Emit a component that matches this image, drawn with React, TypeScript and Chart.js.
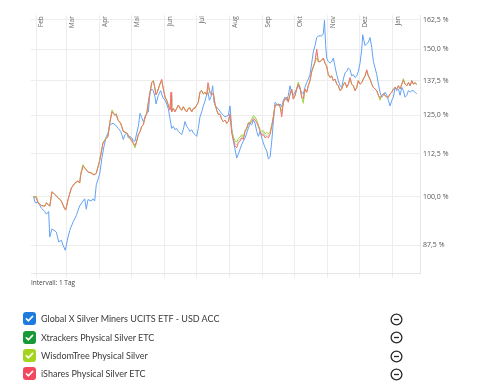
import React, { useEffect, useRef } from 'react';
import { Chart, registerables } from 'chart.js';

Chart.register(...registerables);

// Month gridlines: days since 1 Feb (2024, leap year)
const monthTicks = [0, 29, 60, 90, 121, 151, 182, 213, 243, 274, 304, 335];
const monthLabels = ['Feb', 'Mar', 'Apr', 'Mai', 'Jun', 'Jul', 'Aug', 'Sep', 'Okt', 'Nov', 'Dez', 'Jan'];
const yTicks = [87.5, 100, 112.5, 125, 137.5, 150, 162.5];

const seriesNames = [
  'Global X Silver Miners UCITS ETF - USD ACC',
  'Xtrackers Physical Silver ETC',
  'WisdomTree Physical Silver',
  'iShares Physical Silver ETC',
];
const lineColors = ['#62a2f4', 'rgba(42,157,71,0.3)', '#a6d845', '#f3716e'];
const boxColors = ['#1f7ae0', '#179a36', '#a5d41f', '#f2475c'];

const silverDays = [
  -2.3, 0.3, 1.9, 5.0, 8.2, 9.7, 11.3, 12.9, 15.0, 17.6,
  20.7, 23.8, 27.0, 27.9, 30.1, 33.2, 36.3, 39.4, 41.0, 42.0,
  44.1, 46.3, 48.8, 51.9, 54.5, 56.6, 59.8, 62.9, 65.1, 67.6,
  69.2, 71.4, 73.9, 75.4, 77.0, 79.5, 82.0, 85.2, 88.3, 91.4,
  93.0, 94.6, 96.1, 97.7, 99.3, 100.8, 102.4, 104.0, 105.5, 107.1,
  108.7, 110.2, 111.8, 112.7, 113.9, 115.8, 118.0, 119.6, 121.2, 122.7,
  124.2, 125.8, 126.8, 127.4, 128.9, 130.5, 132.1, 133.6, 135.2, 136.8,
  138.3, 139.9, 141.5, 143.0, 144.6, 146.2, 147.7, 149.3, 150.9, 152.4,
  154.0, 155.6, 157.1, 158.7, 160.3, 161.5, 163.4, 165.0, 166.5, 168.1,
  169.7, 171.2, 172.8, 174.4, 175.9, 177.5, 179.1, 180.6, 182.2, 183.8,
  185.3, 186.9, 188.5, 190.0, 191.6, 193.2, 194.7, 196.3, 197.9, 199.4,
  201.0, 202.6, 204.1, 205.7, 207.3, 208.8, 210.4, 212.0, 213.5, 215.1,
  216.7, 218.2, 219.8, 221.4, 222.9, 224.5, 226.1, 227.6, 229.2, 230.8,
  232.3, 233.8, 235.4, 236.9, 238.5, 240.1, 241.6, 243.2, 244.8, 246.3,
  247.9, 249.5, 251.0, 252.6, 254.2, 255.7, 257.3, 258.9, 260.4, 262.0,
  263.6, 265.1, 266.7, 268.3, 269.8, 271.4, 273.0, 274.5, 276.1, 277.7,
  279.2, 280.8, 282.4, 283.9, 285.5, 287.1, 288.6, 290.2, 291.8, 293.3,
  294.9, 296.5, 298.0, 299.6, 301.2, 302.7, 304.3, 305.9, 307.4, 309.0,
  310.6, 312.1, 313.7, 315.3, 316.8, 318.4, 320.0, 321.5, 323.1, 324.7,
  326.2, 327.8, 329.4, 330.9, 332.5, 334.1, 335.6, 337.2, 338.8, 340.3,
  341.9, 343.5, 345.0, 346.6, 348.2, 349.7, 351.3, 352.9, 354.4, 356.0,
  357.3,
];

const iSharesSilver = [
  100.0, 99.7, 98.3, 97.6, 97.4, 98.2, 97.9, 97.4, 101.4, 100.6,
  99.7, 98.8, 96.6, 96.4, 99.2, 102.4, 103.8, 104.4, 103.8, 106.1,
  108.7, 108.0, 107.0, 106.7, 106.1, 106.6, 110.4, 115.9, 116.9, 118.0,
  122.3, 126.2, 125.1, 125.3, 123.4, 122.3, 119.6, 119.1, 117.5, 115.9,
  115.0, 116.5, 118.6, 119.6, 121.3, 121.8, 124.5, 125.7, 129.6, 133.2,
  136.8, 137.4, 134.4, 132.2, 133.2, 135.6, 138.0, 134.4, 131.4, 130.3,
  128.6, 126.8, 133.2, 126.2, 127.4, 126.2, 127.4, 128.6, 127.4, 126.8,
  128.0, 126.8, 126.2, 127.4, 127.4, 126.2, 127.4, 127.4, 128.6, 129.6,
  133.2, 133.8, 132.6, 133.2, 132.2, 136.8, 133.2, 132.2, 132.8, 129.0,
  126.8, 125.4, 125.4, 123.6, 122.9, 123.4, 122.3, 122.9, 125.4, 119.1,
  116.9, 114.9, 114.4, 115.9, 116.5, 117.5, 117.0, 119.5, 120.5, 122.3,
  122.3, 122.9, 123.9, 123.4, 122.5, 121.3, 119.6, 118.3, 118.6, 117.5,
  118.0, 117.5, 118.6, 121.3, 124.5, 128.6, 128.6, 129.0, 128.0, 124.5,
  129.6, 130.7, 131.4, 129.6, 132.4, 134.4, 130.7, 131.9, 134.4, 136.2,
  135.0, 131.4, 131.0, 134.4, 133.2, 135.6, 137.5, 141.1, 143.0, 144.9,
  150.0, 144.9, 144.9, 145.5, 146.3, 144.3, 143.0, 139.8, 138.7, 139.3,
  137.5, 138.1, 136.2, 135.6, 133.8, 134.4, 136.2, 136.8, 135.0, 136.2,
  138.7, 136.2, 135.6, 133.8, 135.0, 137.5, 136.2, 136.8, 138.1, 139.3,
  141.7, 139.3, 138.1, 136.2, 135.0, 134.4, 133.8, 132.1, 131.1, 132.1,
  132.6, 132.1, 131.4, 131.4, 132.6, 133.2, 134.4, 135.0, 134.4, 135.6,
  134.4, 136.2, 137.6, 136.2, 135.6, 136.8, 135.6, 137.5, 136.2, 136.8,
  136.0,
];

const wisdomTreeSilver = [
  100.0, 100.1, 98.5, 97.6, 97.4, 98.4, 97.9, 97.4, 101.2, 100.6,
  99.7, 98.8, 96.8, 96.4, 99.2, 102.4, 103.6, 104.4, 103.8, 106.6,
  109.2, 108.0, 107.0, 106.7, 106.3, 106.6, 110.4, 115.9, 117.2, 118.0,
  122.3, 126.9, 125.1, 125.6, 123.4, 122.3, 119.6, 119.1, 117.2, 115.6,
  114.3, 116.5, 118.6, 119.6, 121.3, 121.8, 124.5, 125.7, 129.6, 133.2,
  136.8, 137.6, 134.4, 132.6, 133.2, 135.6, 137.6, 134.4, 131.4, 130.3,
  128.6, 127.2, 131.0, 126.5, 127.4, 126.5, 127.4, 128.6, 127.8, 126.8,
  128.0, 127.2, 126.2, 127.4, 127.8, 126.2, 127.4, 127.8, 128.6, 129.6,
  133.5, 133.8, 132.6, 133.2, 132.2, 135.0, 133.2, 132.2, 132.8, 129.0,
  126.8, 125.4, 125.4, 123.6, 122.9, 123.4, 122.3, 122.9, 125.4, 120.0,
  118.0, 116.5, 116.2, 117.2, 117.8, 118.6, 117.8, 120.0, 120.8, 122.6,
  122.6, 123.9, 124.9, 124.5, 123.4, 121.8, 120.2, 119.6, 119.9, 118.8,
  119.3, 118.8, 119.6, 121.8, 124.5, 128.6, 128.6, 129.0, 128.0, 126.5,
  129.6, 130.7, 131.4, 130.0, 132.4, 134.4, 131.0, 131.9, 134.4, 137.0,
  135.0, 131.4, 129.2, 134.4, 133.2, 135.6, 137.5, 140.8, 142.6, 144.6,
  146.3, 144.9, 144.9, 145.5, 146.0, 144.3, 143.0, 139.8, 138.7, 139.3,
  137.5, 138.1, 136.2, 135.6, 133.8, 134.4, 136.2, 136.8, 135.0, 136.2,
  138.0, 136.2, 135.6, 133.8, 135.0, 137.5, 136.2, 136.8, 138.1, 139.3,
  141.2, 139.3, 138.1, 136.2, 135.0, 134.4, 133.8, 132.1, 130.3, 132.1,
  132.6, 132.1, 131.4, 131.4, 132.6, 133.2, 134.4, 135.0, 134.4, 135.6,
  134.4, 136.2, 138.3, 136.2, 135.6, 136.8, 135.6, 137.5, 136.2, 136.8,
  136.2,
];

const xtrackersSilver = [
  100.0, 99.8, 98.4, 97.6, 97.4, 98.3, 97.9, 97.4, 101.3, 100.6,
  99.7, 98.8, 96.7, 96.4, 99.2, 102.4, 103.7, 104.4, 103.8, 106.3,
  108.9, 108.0, 107.0, 106.7, 106.2, 106.6, 110.4, 115.9, 117.0, 118.0,
  122.3, 126.5, 125.1, 125.4, 123.4, 122.3, 119.6, 119.1, 117.4, 115.8,
  114.7, 116.5, 118.6, 119.6, 121.3, 121.8, 124.5, 125.7, 129.6, 133.2,
  136.8, 137.5, 134.4, 132.4, 133.2, 135.6, 137.8, 134.4, 131.4, 130.3,
  128.6, 127.0, 132.0, 126.3, 127.4, 126.3, 127.4, 128.6, 127.6, 126.8,
  128.0, 127.0, 126.2, 127.4, 127.6, 126.2, 127.4, 127.6, 128.6, 129.6,
  133.3, 133.8, 132.6, 133.2, 132.2, 136.0, 133.2, 132.2, 132.8, 129.0,
  126.8, 125.4, 125.4, 123.6, 122.9, 123.4, 122.3, 122.9, 125.4, 119.5,
  117.4, 115.7, 115.3, 116.5, 117.1, 118.0, 117.4, 119.7, 120.6, 122.4,
  122.4, 123.4, 124.4, 124.0, 123.0, 121.5, 119.9, 119.0, 119.2, 118.1,
  118.6, 118.1, 119.1, 121.5, 124.5, 128.6, 128.6, 129.0, 128.0, 125.5,
  129.6, 130.7, 131.4, 129.8, 132.4, 134.4, 130.8, 131.9, 134.4, 136.6,
  135.0, 131.4, 130.1, 134.4, 133.2, 135.6, 137.5, 141.0, 142.8, 144.8,
  149.0, 144.9, 144.9, 145.5, 146.2, 144.3, 143.0, 139.8, 138.7, 139.3,
  137.5, 138.1, 136.2, 135.6, 133.8, 134.4, 136.2, 136.8, 135.0, 136.2,
  138.4, 136.2, 135.6, 133.8, 135.0, 137.5, 136.2, 136.8, 138.1, 139.3,
  141.5, 139.3, 138.1, 136.2, 135.0, 134.4, 133.8, 132.1, 130.7, 132.1,
  132.6, 132.1, 131.4, 131.4, 132.6, 133.2, 134.4, 135.0, 134.4, 135.6,
  134.4, 136.2, 138.0, 136.2, 135.6, 136.8, 135.6, 137.5, 136.2, 136.8,
  136.1,
];

const minersDays = [
  -2.3, -0.7, 1.9, 5.0, 8.2, 9.7, 11.9, 12.9, 15.0, 16.9,
  19.1, 21.3, 23.8, 25.4, 27.5, 29.4, 31.6, 34.7, 37.8, 41.0,
  44.1, 45.7, 47.2, 48.8, 51.9, 53.5, 55.1, 56.6, 59.8, 62.0,
  63.9, 66.0, 67.6, 69.5, 72.6, 74.5, 77.3, 79.5, 80.5, 82.0,
  83.6, 85.2, 86.7, 88.3, 89.9, 91.4, 93.0, 94.6, 96.1, 97.7,
  99.3, 100.8, 102.4, 104.0, 105.5, 107.1, 108.7, 110.2, 111.8, 112.7,
  114.9, 117.1, 119.0, 121.2, 122.7, 124.2, 125.8, 127.4, 128.9, 130.5,
  132.1, 133.6, 135.2, 136.8, 138.3, 139.9, 141.5, 143.0, 144.6, 146.2,
  147.7, 149.3, 150.9, 152.4, 154.0, 155.6, 157.1, 158.7, 160.3, 161.5,
  162.8, 164.3, 165.9, 167.2, 168.6, 171.2, 174.4, 177.5, 180.6, 182.2,
  183.8, 185.3, 186.9, 188.5, 190.0, 191.6, 193.2, 194.7, 196.3, 197.9,
  199.4, 201.0, 202.6, 204.1, 205.7, 207.3, 208.8, 210.4, 212.0, 213.5,
  215.1, 216.7, 218.2, 219.8, 221.4, 222.9, 224.5, 226.1, 227.6, 229.2,
  230.8, 232.3, 233.8, 235.4, 236.9, 238.5, 240.1, 241.6, 243.2, 244.8,
  246.3, 247.9, 249.5, 251.0, 252.6, 254.2, 255.7, 257.3, 258.9, 260.4,
  262.0, 263.6, 265.1, 266.7, 268.3, 269.8, 270.9, 272.0, 273.0, 274.5,
  276.1, 277.7, 279.2, 280.8, 282.4, 283.9, 285.5, 287.1, 288.6, 290.2,
  291.8, 293.3, 294.9, 296.5, 298.0, 299.6, 301.2, 302.7, 304.3, 305.9,
  306.8, 309.0, 310.6, 312.1, 313.7, 315.3, 316.8, 318.4, 320.0, 321.5,
  323.1, 324.7, 326.2, 327.8, 329.4, 330.9, 332.5, 334.1, 335.6, 337.2,
  338.8, 340.3, 341.9, 343.5, 345.0, 346.6, 348.2, 349.7, 351.3, 352.9,
  354.4, 356.0, 357.5,
];

const globalXMiners = [
  100.0, 98.3, 98.5, 96.9, 96.0, 95.3, 96.0, 89.5, 91.5, 91.2,
  90.7, 88.3, 88.7, 87.5, 86.3, 88.7, 91.1, 93.2, 94.9, 97.5,
  98.8, 99.4, 96.6, 99.2, 98.8, 99.4, 98.8, 103.3, 106.4, 111.4,
  114.9, 118.0, 119.0, 121.9, 122.3, 121.8, 120.6, 119.6, 118.6, 117.0,
  118.6, 119.1, 117.5, 118.0, 117.5, 116.5, 116.5, 119.1, 121.3, 125.7,
  124.2, 122.9, 124.2, 125.7, 126.2, 133.2, 134.4, 133.8, 131.4, 129.0,
  132.1, 133.8, 131.4, 130.3, 129.0, 127.4, 124.0, 120.6, 121.3, 120.2,
  120.6, 119.6, 119.1, 118.6, 120.2, 122.9, 121.3, 120.6, 119.6, 120.2,
  119.1, 118.6, 118.0, 120.6, 124.5, 126.2, 128.3, 130.0, 132.4, 133.2,
  130.3, 131.5, 135.6, 129.5, 128.3, 127.2, 125.6, 124.5, 125.0, 128.3,
  120.6, 116.5, 113.9, 111.2, 112.4, 113.9, 115.4, 116.5, 117.5, 119.1,
  120.6, 122.3, 121.8, 123.4, 122.3, 119.6, 118.0, 119.6, 117.5, 115.9,
  114.4, 113.4, 110.9, 111.4, 116.5, 122.9, 129.6, 129.0, 128.3, 129.0,
  128.0, 130.3, 131.4, 130.3, 132.0, 135.6, 133.2, 132.1, 133.3, 134.4,
  135.6, 134.4, 133.2, 132.6, 135.0, 136.8, 138.1, 139.8, 144.3, 148.8,
  151.4, 154.8, 155.5, 155.5, 155.5, 156.4, 162.3, 151.4, 146.3, 144.9,
  144.3, 144.9, 146.3, 142.9, 139.8, 137.5, 135.6, 135.0, 138.1, 140.5,
  141.1, 142.4, 141.7, 139.3, 139.8, 138.7, 139.3, 141.1, 144.3, 149.9,
  156.0, 151.4, 152.3, 152.8, 154.8, 150.6, 145.0, 142.4, 139.8, 136.2,
  133.2, 131.4, 132.1, 133.2, 132.1, 130.3, 128.3, 130.3, 131.4, 135.0,
  133.8, 134.4, 132.1, 135.0, 133.8, 131.4, 132.1, 133.8, 133.2, 133.8,
  133.8, 133.2, 132.6,
];

function pts(days: number[], vals: number[]) {
  const n = Math.min(days.length, vals.length);
  const out: { x: number; y: number }[] = [];
  for (let i = 0; i < n; i++) out.push({ x: days[i], y: vals[i] });
  return out;
}

const monthLabelPlugin = {
  id: 'monthLabels',
  afterDatasetsDraw(chart: any) {
    const { ctx, chartArea, scales } = chart;
    ctx.save();
    ctx.font = '6.5px "Open Sans"';
    ctx.fillStyle = '#666';
    ctx.textAlign = 'right';
    ctx.textBaseline = 'top';
    monthTicks.forEach((d, i) => {
      const px = scales.x.getPixelForValue(d);
      ctx.save();
      ctx.translate(px + 2, chartArea.top + 1);
      ctx.rotate(-Math.PI / 2);
      ctx.fillText(monthLabels[i], 0, 0);
      ctx.restore();
    });
    ctx.restore();
  },
};

function CheckBox({ color }: { color: string }) {
  return (
    <div style={{ width: 13, height: 13, borderRadius: 3, background: color, flex: '0 0 auto' }}>
      <svg width="13" height="13" viewBox="0 0 13 13" style={{ display: 'block' }}>
        <path d="M3.4 6.8 L5.5 8.8 L9.6 4.4" fill="none" stroke="#fff" strokeWidth="1.6" strokeLinecap="round" strokeLinejoin="round" />
      </svg>
    </div>
  );
}

function MinusIcon() {
  return (
    <svg width="13" height="13" viewBox="0 0 13 13" style={{ display: 'block' }}>
      <circle cx="6.5" cy="6.5" r="5.4" fill="none" stroke="#2b2b2b" strokeWidth="1.3" />
      <line x1="4" y1="6.5" x2="9" y2="6.5" stroke="#2b2b2b" strokeWidth="1.3" />
    </svg>
  );
}

export default function App() {
  const canvasRef = useRef<HTMLCanvasElement | null>(null);

  useEffect(() => {
    if (!canvasRef.current) return;
    const datasets = [
      { label: seriesNames[0], data: pts(minersDays, globalXMiners), borderColor: lineColors[0], order: 3 },
      { label: seriesNames[1], data: pts(silverDays, xtrackersSilver), borderColor: lineColors[1], order: 4 },
      { label: seriesNames[2], data: pts(silverDays, wisdomTreeSilver), borderColor: lineColors[2], order: 1 },
      { label: seriesNames[3], data: pts(silverDays, iSharesSilver), borderColor: lineColors[3], order: 0 },
    ].map((d) => ({ ...d, borderWidth: 1, pointRadius: 0, tension: 0, fill: false }));

    const chart = new Chart(canvasRef.current, {
      type: 'line',
      data: { datasets } as any,
      options: {
        responsive: false,
        animation: false,
        maintainAspectRatio: false,
        layout: { padding: { left: 23, right: 8, top: 3, bottom: 0 } },
        plugins: { legend: { display: false }, tooltip: { enabled: false } },
        scales: {
          x: {
            type: 'linear',
            min: -4.7,
            max: 360.6,
            afterBuildTicks: (s: any) => {
              s.ticks = monthTicks.map((v) => ({ value: v }));
            },
            afterFit: (s: any) => {
              s.height = 5;
            },
            ticks: { display: false },
            grid: { color: '#ededed', lineWidth: 1, drawTicks: true, tickLength: 4 },
            border: { display: true, color: '#e6e6e6' },
          },
          y: {
            type: 'logarithmic',
            position: 'right',
            min: 80.9,
            max: 164.6,
            afterBuildTicks: (s: any) => {
              s.ticks = yTicks.map((v) => ({ value: v }));
            },
            afterFit: (s: any) => {
              s.width = 44;
            },
            ticks: {
              padding: 3,
              color: '#555',
              font: { family: '"Open Sans"', size: 7 },
              callback: (v: any) => Number(v).toFixed(1).replace('.', ',') + ' %',
            },
            grid: { color: '#ededed', lineWidth: 1, drawTicks: false },
            border: { display: true, color: '#e6e6e6' },
          },
        },
      } as any,
      plugins: [monthLabelPlugin],
    });
    return () => chart.destroy();
  }, []);

  const rowTops = [304.3, 322.7, 341, 359.3];

  return (
    <div style={{ position: 'relative', width: 464, height: 375 }}>
      <canvas ref={canvasRef} width={464} height={273} style={{ display: 'block', position: 'absolute', left: 0, top: 0 }} />
      <div
        style={{
          position: 'absolute',
          left: 23,
          top: 270,
          fontFamily: '"Open Sans", sans-serif',
          fontSize: 6.5,
          lineHeight: '9px',
          color: '#444',
          whiteSpace: 'nowrap',
        }}
      >
        Intervall: 1 Tag
      </div>
      {seriesNames.map((name, i) => (
        <React.Fragment key={name}>
          <div
            style={{
              position: 'absolute',
              left: 15,
              top: rowTops[i],
              height: 13,
              display: 'flex',
              alignItems: 'center',
              whiteSpace: 'nowrap',
            }}
          >
            <CheckBox color={boxColors[i]} />
            <span
              style={{
                marginLeft: 5,
                fontFamily: 'Lato, sans-serif',
                fontSize: 9,
                color: '#3a3a3a',
                lineHeight: '13px',
              }}
            >
              {name}
            </span>
          </div>
          <div style={{ position: 'absolute', left: 381.5, top: rowTops[i] + 0.5 }}>
            <MinusIcon />
          </div>
        </React.Fragment>
      ))}
    </div>
  );
}
